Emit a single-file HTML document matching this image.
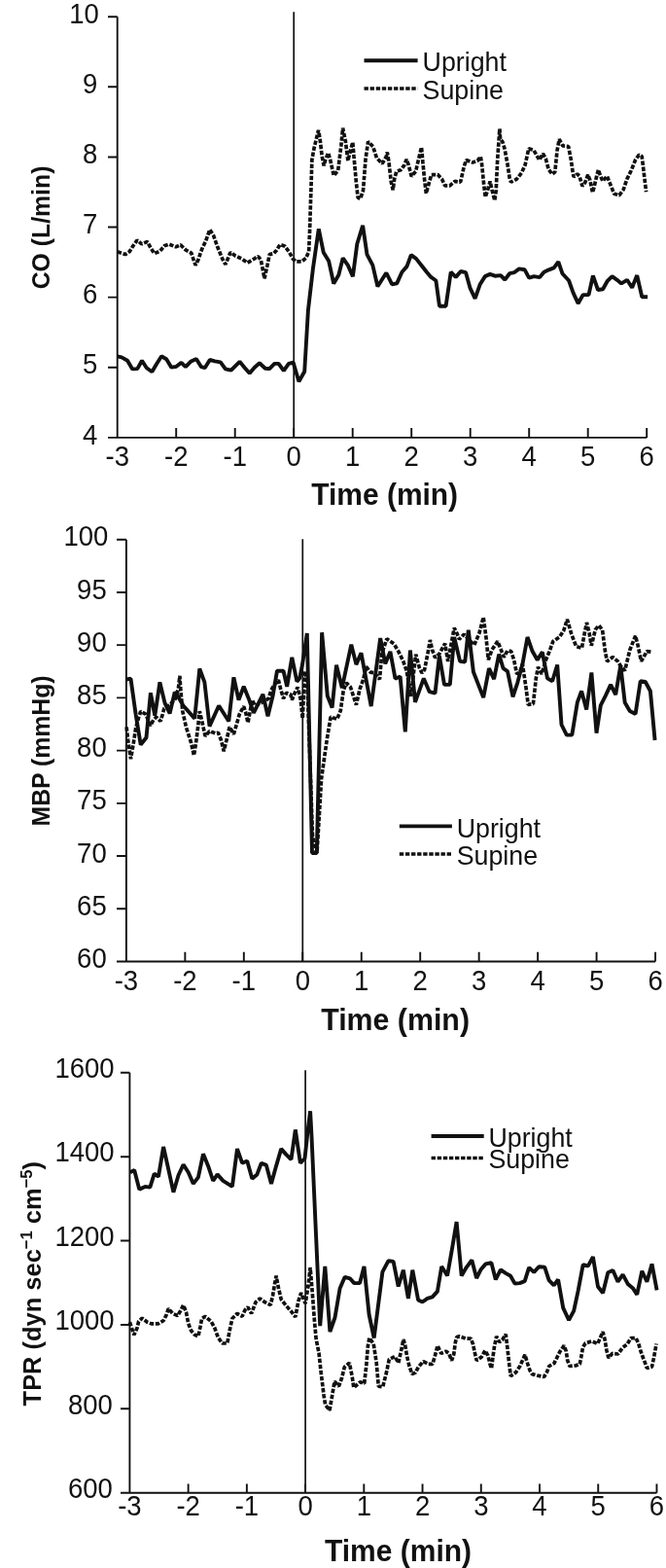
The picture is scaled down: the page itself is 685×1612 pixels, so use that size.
<!DOCTYPE html>
<html><head><meta charset="utf-8"><title>CO, MBP and TPR vs time</title>
<style>html,body{margin:0;padding:0;background:#fff;}svg{display:block;}</style></head>
<body><svg width="685" height="1612" viewBox="0 0 685 1612" font-family="&#39;Liberation Sans&#39;, Arial, Helvetica, sans-serif" fill="#111">
<path d="M120.7 17.2V449.9H665.2M111 449.9H120.7M111 377.78H120.7M111 305.67H120.7M111 233.55H120.7M111 161.43H120.7M111 89.32H120.7M111 17.2H120.7M181.2 449.9V440M241.7 449.9V440M302.2 449.9V440M362.7 449.9V440M423.2 449.9V440M483.7 449.9V440M544.2 449.9V440M604.7 449.9V440M665.2 449.9V440" fill="none" stroke="#111" stroke-width="1.9"/>
<path d="M302.2 12.3V449.9" stroke="#111" stroke-width="1.7"/>
<text transform="translate(100.2 456.5) scale(1 1.04)" font-size="27.5" text-anchor="end">4</text>
<text transform="translate(100.2 384.38) scale(1 1.04)" font-size="27.5" text-anchor="end">5</text>
<text transform="translate(100.2 312.27) scale(1 1.04)" font-size="27.5" text-anchor="end">6</text>
<text transform="translate(100.2 240.15) scale(1 1.04)" font-size="27.5" text-anchor="end">7</text>
<text transform="translate(100.2 168.03) scale(1 1.04)" font-size="27.5" text-anchor="end">8</text>
<text transform="translate(100.2 95.92) scale(1 1.04)" font-size="27.5" text-anchor="end">9</text>
<text transform="translate(101.9 23.8) scale(1 1.04)" font-size="27.5" text-anchor="end">10</text>
<text transform="translate(120.7 478.8) scale(1 1.04)" font-size="27.5" text-anchor="middle">-3</text>
<text transform="translate(181.2 478.8) scale(1 1.04)" font-size="27.5" text-anchor="middle">-2</text>
<text transform="translate(241.7 478.8) scale(1 1.04)" font-size="27.5" text-anchor="middle">-1</text>
<text transform="translate(302.2 478.8) scale(1 1.04)" font-size="27.5" text-anchor="middle">0</text>
<text transform="translate(362.7 478.8) scale(1 1.04)" font-size="27.5" text-anchor="middle">1</text>
<text transform="translate(423.2 478.8) scale(1 1.04)" font-size="27.5" text-anchor="middle">2</text>
<text transform="translate(483.7 478.8) scale(1 1.04)" font-size="27.5" text-anchor="middle">3</text>
<text transform="translate(544.2 478.8) scale(1 1.04)" font-size="27.5" text-anchor="middle">4</text>
<text transform="translate(604.7 478.8) scale(1 1.04)" font-size="27.5" text-anchor="middle">5</text>
<text transform="translate(665.2 478.8) scale(1 1.04)" font-size="27.5" text-anchor="middle">6</text>
<text x="320.3" y="519.2" font-size="31" font-weight="bold" textLength="150.8" lengthAdjust="spacingAndGlyphs">Time (min)</text>
<text transform="translate(51.4 297.3) rotate(-90)" font-size="26" font-weight="bold" textLength="126.7" lengthAdjust="spacingAndGlyphs">CO (L/min)</text>
<path d="M374.5 62.3H429.6" stroke="#111" stroke-width="3.9"/>
<path d="M374.5 91H429.6" stroke="#111" stroke-width="3.7" stroke-dasharray="4.4 1.7"/>
<text transform="translate(434.6 73.3) scale(1 1.03)" font-size="26.8">Upright</text>
<text transform="translate(434.6 101.5) scale(1 1.03)" font-size="26.8">Supine</text>
<path d="M120.8 258.7 128.9 261.6 133.2 258.7 136.9 252.8 141 247 145.7 250.9 151.5 248.5 155.1 255 158.8 260.6 164.6 258.2 169 252.8 174.1 251.1 180.7 253.9 185.8 251.8 190.9 256.9 196.8 260.1 198.9 266.4 201.1 272.6 204.1 266.7 206.2 260.1 208.4 254.3 211.4 248.5 215.8 236.1 219.5 241.9 223.9 254.3 229 266.7 231.9 271.8 237 259.4 242.1 263.1 248.7 266 254.5 270.1 260.4 266.7 265.5 263.5 268.4 267.4 272 286.4 275 272.6 277.2 261.6 281.5 260.6 284.5 257.2 288.1 251.4 293.2 253.3 297.6 259.4 301.2 266 304.5 268.9 310.3 268.9 314.7 265.3 317.6 258.7 318.4 241.9 320.9 163.8 323.1 152.1 327.5 133.9 329 141.9 331.2 160.9 333.1 170.4 334.8 163.8 337.7 157.2 339.9 165.3 343.3 180.6 347.7 175.2 350.9 149.2 352.6 131.7 355.3 144.8 357.9 165.3 360.4 155 362.8 146.3 364 160.9 366.2 185.7 368.1 203.2 370.6 204.4 373.5 195.9 376 163.8 378.6 145.5 383.7 150.7 387.4 162.3 393.2 168.2 397.3 160.9 398.3 156.5 399.8 165.3 402.3 187.2 404.2 195.2 405.6 184.2 407.8 176.2 412.3 174.7 416 169.6 418.1 163.8 420.3 169.6 423.2 181.3 427.6 176.2 430.5 163.8 433.5 151.4 434.9 166.7 436.4 182.8 438.3 198.8 441.5 187.2 443.7 179.6 450.3 179.6 454.6 184.2 457.6 190.8 462.7 190.8 467.8 186.4 473.6 187.2 477.3 171.1 479.5 164.5 486 167 491.1 165.3 494.3 160.9 495.5 168.2 497.7 190.1 499.2 202.5 501.4 195.9 504.1 186.4 505.8 194.5 508.8 206.1 510.2 195.9 511.7 163.8 513.9 132.4 514.6 143.4 516.8 145.5 519 152.8 521.9 168.2 524.1 182.8 525.5 187.2 531.4 184.2 536.5 177.7 540.1 169.6 543.8 152.8 548.9 154.3 551.8 159.4 554.7 164.5 558.4 158 561.3 163.1 564.2 174 567.9 179.1 570.8 176.9 573 155 575.2 143.1 578.8 149.9 584.7 150.7 587.2 163.6 589.1 176.7 590.1 181.8 593.8 178.9 596 181.1 598.9 191.3 601.8 187.7 604.7 179.6 606.9 185.5 608.4 192.8 609.5 197.9 611.3 191.3 613.5 181.8 615.4 174.5 617.4 180.4 620 186.2 624.4 181.1 627.3 188.4 631.7 199.3 636.8 200.8 641.2 195 644.9 184 649.2 175.3 653.6 164.3 657.3 159.2 660.2 160.7 661.6 172.3 664.6 197.2" fill="none" stroke="#111" stroke-width="3.7" stroke-dasharray="4.4 1.7" stroke-linejoin="bevel"/>
<path d="M120.8 366.3 125.2 367.4 131.1 370.7 136.2 379.4 141.3 379.1 146 370.7 150.8 378.2 156.3 382.3 161 374.3 166.1 366.3 171.2 369.2 176.3 377.7 181.4 376.8 186.5 372.8 190.9 377.2 196 371.8 201.9 368.9 207 377.2 210.7 378.2 215.8 369.9 221 371.4 226.8 372.4 231.9 379.4 237.7 380.6 246.5 371.8 251.6 378 256.7 383.8 261.8 377.7 266.9 373.3 272.8 378.7 277.2 379.1 282.3 373.9 286.6 373.9 291.8 381.2 296.9 373.9 301.6 372.6 307.4 392.3 313.2 382 316.9 319.3 322 275.5 327.8 235.3 332.7 259.4 338.1 268.2 343.2 291.5 348.3 282.8 352.7 265.3 357.8 272.6 362.9 284.2 367.3 250.7 373.1 231.7 377.5 261.6 383.3 272.6 388.4 294.5 397.3 280.5 403.1 292.2 408.2 291.4 413.4 279.7 418.5 273.9 422.8 262.2 428 265.9 433.8 273.2 438.9 279.7 443.3 284.9 448.4 288.5 452 314.8 458.6 314.8 463.7 279.7 468.8 284.9 473.9 279 479.1 280.2 483.4 295.8 488.6 306.8 493.8 292.2 498.9 284.1 504 281.9 509.1 283.7 514.9 283.1 519.3 287.5 524.1 281.2 528.8 280.2 533.9 276.4 539.7 277.3 544.1 285.6 549.2 284.1 555.1 285.1 559.5 279.7 564.6 277.3 569.7 275.4 574.3 269.1 578.4 281.2 585.1 288.5 589.5 300.9 594.6 311.9 599.7 303.1 605.5 303.1 609.9 283.4 615 298 620.1 297.3 624.5 289.2 629.6 284.1 634.7 287.8 639.1 291.4 645 287.8 650.1 295.8 655.2 283.1 660.3 305.3 666.1 305.3" fill="none" stroke="#111" stroke-width="3.9" stroke-linejoin="bevel"/>
<path d="M129.9 554.7V988.5H674.04M120 988.5H129.9M120 934.27H129.9M120 880.05H129.9M120 825.83H129.9M120 771.6H129.9M120 717.38H129.9M120 663.15H129.9M120 608.93H129.9M120 554.7H129.9M190.36 988.5V978.7M250.82 988.5V978.7M311.28 988.5V978.7M371.74 988.5V978.7M432.2 988.5V978.7M492.66 988.5V978.7M553.12 988.5V978.7M613.58 988.5V978.7M674.04 988.5V978.7" fill="none" stroke="#111" stroke-width="1.9"/>
<path d="M311.28 554.2V988.5" stroke="#111" stroke-width="1.7"/>
<text transform="translate(109.7 995.1) scale(1 1.04)" font-size="27.5" text-anchor="end">60</text>
<text transform="translate(109.7 940.88) scale(1 1.04)" font-size="27.5" text-anchor="end">65</text>
<text transform="translate(109.7 886.65) scale(1 1.04)" font-size="27.5" text-anchor="end">70</text>
<text transform="translate(109.7 832.43) scale(1 1.04)" font-size="27.5" text-anchor="end">75</text>
<text transform="translate(109.7 778.2) scale(1 1.04)" font-size="27.5" text-anchor="end">80</text>
<text transform="translate(109.7 723.98) scale(1 1.04)" font-size="27.5" text-anchor="end">85</text>
<text transform="translate(109.7 669.75) scale(1 1.04)" font-size="27.5" text-anchor="end">90</text>
<text transform="translate(109.7 615.53) scale(1 1.04)" font-size="27.5" text-anchor="end">95</text>
<text transform="translate(111.4 561.3) scale(1 1.04)" font-size="27.5" text-anchor="end">100</text>
<text transform="translate(129.9 1017.6) scale(1 1.04)" font-size="27.5" text-anchor="middle">-3</text>
<text transform="translate(190.36 1017.6) scale(1 1.04)" font-size="27.5" text-anchor="middle">-2</text>
<text transform="translate(250.82 1017.6) scale(1 1.04)" font-size="27.5" text-anchor="middle">-1</text>
<text transform="translate(311.28 1017.6) scale(1 1.04)" font-size="27.5" text-anchor="middle">0</text>
<text transform="translate(371.74 1017.6) scale(1 1.04)" font-size="27.5" text-anchor="middle">1</text>
<text transform="translate(432.2 1017.6) scale(1 1.04)" font-size="27.5" text-anchor="middle">2</text>
<text transform="translate(492.66 1017.6) scale(1 1.04)" font-size="27.5" text-anchor="middle">3</text>
<text transform="translate(553.12 1017.6) scale(1 1.04)" font-size="27.5" text-anchor="middle">4</text>
<text transform="translate(613.58 1017.6) scale(1 1.04)" font-size="27.5" text-anchor="middle">5</text>
<text transform="translate(674.04 1017.6) scale(1 1.04)" font-size="27.5" text-anchor="middle">6</text>
<text x="330.2" y="1058.8" font-size="31" font-weight="bold" textLength="152.8" lengthAdjust="spacingAndGlyphs">Time (min)</text>
<text transform="translate(51 849.5) rotate(-90)" font-size="26" font-weight="bold" textLength="155.1" lengthAdjust="spacingAndGlyphs">MBP (mmHg)</text>
<path d="M410.8 849.4H464.9" stroke="#111" stroke-width="3.9"/>
<path d="M410.8 878H464.9" stroke="#111" stroke-width="3.7" stroke-dasharray="4.4 1.7"/>
<text transform="translate(469.7 861.1) scale(1 1.03)" font-size="26.8">Upright</text>
<text transform="translate(469.7 889.3) scale(1 1.03)" font-size="26.8">Supine</text>
<path d="M130.1 747.4 131.6 760.5 133.8 775.1 134.5 780.2 137.4 763.4 139.6 748.8 142.5 737.9 144.7 731.3 149.8 734.2 154.9 745.9 157.8 740.1 160.8 737.2 165.1 741.5 167.3 734.2 168.8 728.4 175.4 724 180.5 718.2 183.4 708 184.9 694.8 185.6 706.5 187.8 731.3 191.4 747.4 196.5 763.4 199.5 776.6 201.6 763.4 203.8 745.9 205.3 731.3 207.5 740.1 211.1 756.9 215.5 751.8 221.5 753.9 224.4 753.2 227.3 760.5 230.2 772.2 233.1 760.5 236.1 747.4 240.4 754.7 243.4 744.5 246.3 734.2 250.7 726.2 252.8 732.8 255 743 259.4 719.6 262.3 725.5 270 722 276.2 718.2 278.4 710.9 281.3 705 286.4 699.2 288.6 708 291.5 718.2 294.5 712.3 298.8 713.8 300.3 719.6 303.2 712.3 306.1 706.5 309.1 718.2 311.2 738.6 313.5 690 316 700 321.5 860 326 877 330.6 800.3 336.3 760 340.1 737.1 346.7 739.3 350.3 730.5 353.2 710.1 356.2 702 360.5 706.4 366.4 724.7 370 708.6 373.7 698.4 376.6 685.3 381 691.1 385.4 691.8 390.5 698.4 392.7 672.1 397.8 656.8 405.1 661.9 409.5 669.2 414.6 679.4 418.2 689.6 421.1 707.2 422.6 715.9 425.5 691.1 427.7 672.8 431.4 686.7 434 692 436.6 688.6 440.2 670.4 442.4 658 444.6 668.2 447.5 676.2 452 672 457.7 661.6 460.7 679.9 467.2 645.5 470.1 651.4 472.3 657.2 477.4 652.1 482.6 658 487.7 663.1 492.8 651.4 497.2 634.6 500.1 656.5 502.3 678.4 505.9 668.2 511.8 659.4 515.4 668.2 518.3 675.5 522 668.9 525.7 669.6 528.6 678.4 531.6 693 535 690 537.4 682.8 541.1 707.6 543.2 724.4 548.4 723.6 551.3 697.4 553.5 685.7 557.1 693 561.5 678.4 565.1 669.6 568.8 659.4 575.4 655 579.7 648.5 583.4 636.8 587.8 652.1 592.6 664.5 598.4 666.3 601.3 650.7 603.5 640 606.1 651 608.3 663.8 612.3 647.4 615.9 643 619.6 647.7 622.2 668.2 624.4 679.9 630.3 675.5 635.4 679.9 639 685.7 642.7 689.3 647.8 668.2 653.6 653.6 656.5 665.3 659.5 679.9 665.3 669.6 671.1 670.4" fill="none" stroke="#111" stroke-width="3.7" stroke-dasharray="4.4 1.7" stroke-linejoin="bevel"/>
<path d="M130.1 698.5 134.5 697.7 139.6 734.2 144.7 765.6 150.5 758.3 154.9 712.3 159.3 735.7 164.4 701.4 169.5 722.6 174.6 733.5 179.7 711.6 182.7 715.3 188.5 725.5 200.2 738.6 205.3 687.5 210.4 701.4 215.5 746.6 225.1 725.5 235.3 741.5 240.4 696.3 245.5 719.6 250.7 705.8 255.8 718.2 260.9 732.8 270.4 713.8 275.5 736.4 280.6 715.3 285 689.7 291.5 689.7 295.2 705.8 300.3 675.8 305.4 700.7 308.3 697 311 683.2 315.8 651 321 877 325.8 877 331.1 650.2 336.8 715.5 341.6 727.6 346 683.8 351.8 707.2 361.3 662.6 366.4 683.1 371.5 671.4 381.7 726.1 391.2 656.1 396.3 682.3 401.4 669.9 406.5 697.7 411.6 695.5 416.8 752.4 421.9 668.5 427 721.8 435.8 697.4 441.7 711.2 447.5 712.7 451.9 674 457 703.9 462.8 703.9 467.2 655 473.1 679.9 478.2 680.6 481.8 647.7 486.9 690.8 497.2 717.1 503 687.2 508.1 698.1 513.2 672.6 517.6 687.2 522 690.1 527.5 716.4 532.3 701.8 537.4 682.8 542.5 655 547.6 669.6 552.7 678.4 557.8 670.4 563 697.4 568.1 700.3 573.2 683.5 577.5 745 582.8 755.6 588.3 755.6 593.8 722.2 598.1 710.5 603.2 729.5 608.4 691.5 613.5 753.6 617.8 725.1 623 714.9 628.1 703.9 633.2 714.2 638.3 684.2 642.7 722.2 647.8 731 653.6 733.9 658.7 700.3 663.8 701 668.9 710.5 673.6 761" fill="none" stroke="#111" stroke-width="3.9" stroke-linejoin="bevel"/>
<path d="M133.4 1102.8V1534.7H675.47M124 1534.7H133.4M124 1448.32H133.4M124 1361.94H133.4M124 1275.56H133.4M124 1189.18H133.4M124 1102.8H133.4M193.63 1534.7V1525.5M253.86 1534.7V1525.5M314.09 1534.7V1525.5M374.32 1534.7V1525.5M434.55 1534.7V1525.5M494.78 1534.7V1525.5M555.01 1534.7V1525.5M615.24 1534.7V1525.5M675.47 1534.7V1525.5" fill="none" stroke="#111" stroke-width="1.9"/>
<path d="M314.09 1100.3V1534.7" stroke="#111" stroke-width="1.7"/>
<text transform="translate(115.9 1540) scale(1 1.04)" font-size="27.5" text-anchor="end">600</text>
<text transform="translate(115.9 1453.62) scale(1 1.04)" font-size="27.5" text-anchor="end">800</text>
<text transform="translate(117.6 1367.24) scale(1 1.04)" font-size="27.5" text-anchor="end">1000</text>
<text transform="translate(117.6 1280.86) scale(1 1.04)" font-size="27.5" text-anchor="end">1200</text>
<text transform="translate(117.6 1194.48) scale(1 1.04)" font-size="27.5" text-anchor="end">1400</text>
<text transform="translate(117.6 1108.1) scale(1 1.04)" font-size="27.5" text-anchor="end">1600</text>
<text transform="translate(133.4 1557.6) scale(1 1.04)" font-size="27.5" text-anchor="middle">-3</text>
<text transform="translate(193.63 1557.6) scale(1 1.04)" font-size="27.5" text-anchor="middle">-2</text>
<text transform="translate(253.86 1557.6) scale(1 1.04)" font-size="27.5" text-anchor="middle">-1</text>
<text transform="translate(314.09 1557.6) scale(1 1.04)" font-size="27.5" text-anchor="middle">0</text>
<text transform="translate(374.32 1557.6) scale(1 1.04)" font-size="27.5" text-anchor="middle">1</text>
<text transform="translate(434.55 1557.6) scale(1 1.04)" font-size="27.5" text-anchor="middle">2</text>
<text transform="translate(494.78 1557.6) scale(1 1.04)" font-size="27.5" text-anchor="middle">3</text>
<text transform="translate(555.01 1557.6) scale(1 1.04)" font-size="27.5" text-anchor="middle">4</text>
<text transform="translate(615.24 1557.6) scale(1 1.04)" font-size="27.5" text-anchor="middle">5</text>
<text transform="translate(675.47 1557.6) scale(1 1.04)" font-size="27.5" text-anchor="middle">6</text>
<text x="334" y="1604.6" font-size="31" font-weight="bold" textLength="151" lengthAdjust="spacingAndGlyphs">Time (min)</text>
<path d="M443.6 1168H497.7" stroke="#111" stroke-width="3.9"/>
<path d="M443.6 1190.5H497.7" stroke="#111" stroke-width="3.7" stroke-dasharray="4.4 1.7"/>
<text transform="translate(502.4 1178.8) scale(1 1.03)" font-size="26.8">Upright</text>
<text transform="translate(502.4 1201.1) scale(1 1.03)" font-size="26.8">Supine</text>
<path d="M133.5 1359.2 135.3 1365 137.9 1372.3 141.1 1365 142.6 1358.5 146.2 1355.1 151.4 1359.2 155.7 1360.9 162.7 1360.9 168.1 1357.7 171.1 1351.9 173.3 1345.3 177.6 1350.4 182.7 1352.6 185.7 1347.5 188.6 1341.7 191.5 1349 193.7 1360.7 196.6 1368 200.3 1372.3 203.9 1373.8 206.1 1363.6 207.6 1355.5 211.2 1353.4 217.1 1358.5 220.7 1365 224.4 1375.3 228.6 1381 233.8 1381 236 1368.6 238.9 1355.5 244 1350.4 249.1 1353.3 252 1346.7 254.9 1343.8 258.6 1350.4 263 1338.7 267.3 1335 272.4 1338.7 278.3 1341.6 280.5 1332.1 282.7 1319 284.1 1311.7 286.3 1323.4 289.2 1335.8 294.3 1342.3 299.5 1348.2 303.8 1354 306.8 1338 309.7 1329.2 312.6 1336.5 314.1 1340.1 317 1321.9 319.1 1303.2 321.2 1328.2 323.4 1357.4 325.1 1376.3 328 1390.9 330.2 1411.3 333.1 1434.7 334.6 1444.2 339 1450 341.9 1433.2 344.1 1420.1 348.5 1425.2 351.4 1417.2 354.3 1405.5 359.4 1401.1 362.3 1415.7 363.8 1426.6 370.4 1420.8 374.7 1422.3 376.9 1402.6 378.4 1383.6 379.9 1375.5 384.2 1381.4 387.2 1401.1 389.3 1425.2 393.7 1425.9 397.4 1411.3 400.3 1397.4 406.1 1394.5 409.8 1401.1 413.4 1385 414.9 1377 416.5 1381.9 418.6 1394.3 420.8 1403.8 423.8 1412.6 427.4 1411.1 430.3 1405.3 435.4 1399.7 440.5 1402.3 444.9 1402.3 447.1 1395 448.6 1389.2 450 1383.4 453.7 1391.4 458.8 1389.2 461.7 1391.4 464.6 1398.7 466.8 1392.1 468.3 1380.4 469.7 1374.6 472.7 1373.9 479.2 1376.1 484.3 1376.1 486.5 1381.9 488 1389.2 490.2 1398.7 495.3 1395 498.9 1388.5 501.9 1393.6 504 1402.3 505.5 1406.7 507 1395 508.4 1384.8 510.6 1373.9 513.6 1379.7 516.6 1377.5 520.2 1371.7 521.7 1384.1 523.9 1403.8 525.3 1414.7 530.4 1411.1 534.8 1404.5 539.9 1392.8 542.8 1402.3 545 1408.9 547.2 1412.6 552.3 1414 559.6 1415.5 562.6 1410.4 564.7 1404.5 569.9 1401.6 572.8 1395.8 575.7 1389.9 580.1 1383.4 582.3 1389.2 583.7 1398.7 585.9 1404.5 592.5 1403.8 596.3 1402.3 597.6 1396 599.6 1384.8 602.2 1380.9 608.8 1378.9 614.7 1381.5 617.3 1375.6 620 1369.1 621.9 1376.3 623.9 1388.1 625.9 1396 629.8 1391.4 635.7 1392 640.3 1385.5 644.9 1382.2 648.9 1375.6 654.1 1375.6 656.8 1381.5 658.7 1388.1 660.7 1394 663.3 1400.6 665.3 1406.5 670.5 1405.2 672.5 1396 675.1 1381.5" fill="none" stroke="#111" stroke-width="3.7" stroke-dasharray="4.4 1.7" stroke-linejoin="bevel"/>
<path d="M133.8 1205.3 138.2 1203.1 143.3 1222.8 149.2 1219.9 154.3 1220.6 158.7 1206.7 163 1209.6 168.1 1179 173.3 1202.3 178.4 1225.7 183.5 1208.2 188.6 1197.2 193.7 1205.3 198.8 1216.9 203.9 1210.4 209 1186.3 214.1 1198.7 219.2 1214 223.6 1207.4 229.4 1213.9 238.9 1219.8 244 1181.1 249.1 1195.7 254.2 1193.5 259.3 1211.8 264.4 1207.4 268.8 1195.7 273.9 1197.9 279 1216.9 284.1 1198.6 289.2 1181.1 294.3 1186.9 299.5 1192 303.8 1161.4 308.9 1195.7 313.5 1191 316.4 1164.1 319.1 1142.3 320.5 1168.2 329.2 1363.2 334.3 1301.9 339.4 1369.1 344.5 1354.5 349.6 1324.5 354.7 1312.8 359.9 1314.3 364.2 1319.1 370.1 1319.1 374.5 1301.9 379.6 1351.5 384.7 1375.6 393.4 1307.7 399.5 1296.2 404.6 1296.9 409.7 1322.5 414.8 1305.7 419.9 1334.9 424.3 1305.7 430.1 1336.4 434.5 1338.5 439.6 1334.9 444.7 1333.4 449.9 1327.6 454.2 1302 460.1 1311.5 464.5 1286.7 469.6 1256.1 474.7 1311.5 479.8 1302.8 485.3 1295.5 490.1 1314 494.5 1305.3 499.6 1299.4 505.4 1298.2 509.8 1315.5 514.9 1305.3 520 1308.9 525.1 1311.8 529.5 1319.6 534.6 1319.1 539.7 1317.2 544.1 1303.1 549.2 1307.9 554.3 1302.3 560.2 1302.6 564.6 1316.2 569.7 1321.3 574.1 1315.5 579.2 1344.7 585.1 1357.1 590.2 1347.6 594.6 1327.2 599.7 1300.1 604.8 1301.6 609.9 1292.1 615 1322.8 620.1 1329.3 625.3 1308.2 630.4 1306 635.5 1317.7 640.6 1310.4 645.7 1319.9 650.8 1324.2 655.2 1330.8 660.3 1306.7 665.4 1317.7 670.5 1299.4 675.6 1326.4" fill="none" stroke="#111" stroke-width="3.9" stroke-linejoin="bevel"/>
<text transform="translate(42.2 1445.4) rotate(-90)" font-size="26" font-weight="bold" textLength="251.5" lengthAdjust="spacingAndGlyphs">TPR (dyn sec<tspan dy="-9.5" font-size="17">−1</tspan><tspan dy="9.5"> cm</tspan><tspan dy="-9.5" font-size="17">−5</tspan><tspan dy="9.5">)</tspan></text>
</svg></body></html>
